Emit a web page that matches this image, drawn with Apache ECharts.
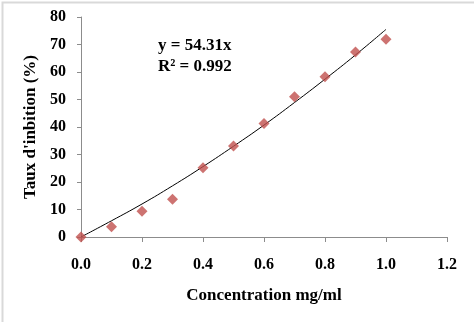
<!DOCTYPE html>
<html><head><meta charset="utf-8">
<script src="https://cdn.jsdelivr.net/npm/echarts@6/dist/echarts.min.js"></script>
<style>html,body{margin:0;padding:0;background:#fff}#c{width:474px;height:322px}</style>
</head><body><div id="c"></div>
<script>
const concentrations = [0.0, 0.1, 0.2, 0.3, 0.4, 0.5, 0.6, 0.7, 0.8, 0.9, 1.0];
const inhibition = [0, 3.7, 9.4, 13.7, 25.2, 33.1, 41.3, 51.0, 58.3, 67.3, 71.9];
const trendX = [0.0, 0.1, 0.2, 0.3, 0.4, 0.5, 0.6, 0.7, 0.8, 0.9, 1.0];
const trendY = [0, 5.9, 12.0, 18.6, 25.6, 33.0, 40.7, 48.9, 57.4, 66.2, 75.5];
const equationText = ['y = 54.31x', 'R² = 0.992'];
const xTitle = 'Concentration mg/ml';
const yTitle = "Taux d'inbition (%)";

const font = "'Liberation Serif','Times New Roman',serif";
const chart = echarts.init(document.getElementById('c'), null, {renderer: 'canvas'});
chart.setOption({
  animation: false,
  backgroundColor: '#fff',
  grid: {left: 81, right: 27, top: 17, bottom: 85, containLabel: false},
  xAxis: {
    type: 'value', min: 0, max: 1.2, interval: 0.2,
    name: xTitle, nameLocation: 'middle', nameGap: 50,
    nameTextStyle: {fontFamily: font, fontWeight: 'bold', fontSize: 17, color: '#000'},
    axisLine: {lineStyle: {color: '#8c8c8c', width: 1}},
    axisTick: {show: true, length: 5, inside: false, lineStyle: {color: '#8c8c8c'}},
    axisLabel: {fontFamily: font, fontWeight: 'bold', fontSize: 16, color: '#000', margin: 20,
      formatter: v => v.toFixed(1)},
    splitLine: {show: false}
  },
  yAxis: {
    type: 'value', min: 0, max: 80, interval: 10,
    name: yTitle, nameLocation: 'middle', nameGap: 41, nameRotate: 90,
    nameTextStyle: {fontFamily: font, fontWeight: 'bold', fontSize: 17, color: '#000'},
    axisLine: {show: true, lineStyle: {color: '#8c8c8c', width: 1}},
    axisTick: {show: true, length: 4, lineStyle: {color: '#8c8c8c'}},
    axisLabel: {fontFamily: font, fontWeight: 'bold', fontSize: 16, color: '#000', margin: 15},
    splitLine: {show: false}
  },
  graphic: [
    {type: 'rect', left: 0, top: 0, shape: {width: 473, height: 321},
      style: {fill: 'none', stroke: '#d9d9d9', lineWidth: 2}, silent: true},
    {type: 'text', left: 158, top: 37, style: {text: equationText[0], font: "bold 17px " + font, fill: '#000'}},
    {type: 'text', left: 158, top: 58, style: {text: equationText[1], font: "bold 17px " + font, fill: '#000'}}
  ],
  series: [
    {type: 'line', data: trendX.map((x, i) => [x, trendY[i]]), smooth: true, showSymbol: false,
      lineStyle: {color: '#000', width: 1}, z: 2},
    {type: 'scatter', data: concentrations.map((x, i) => [x, inhibition[i]]), symbol: 'diamond',
      symbolSize: [11, 11], itemStyle: {color: '#c0504d'}, z: 3}
  ]
});
</script></body></html>
